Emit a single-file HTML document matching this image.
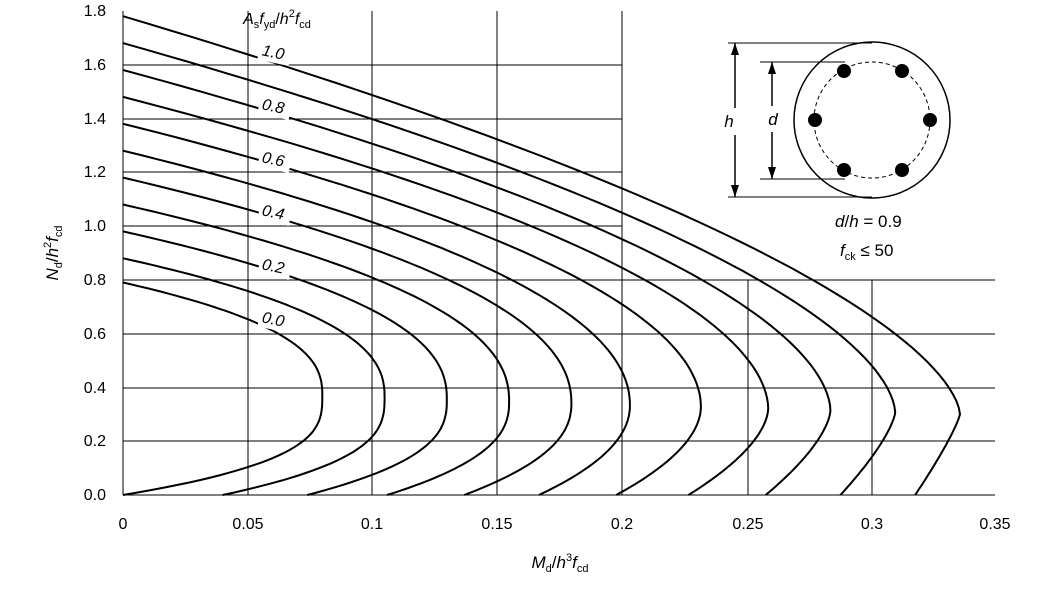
<!DOCTYPE html>
<html><head><meta charset="utf-8"><style>
body{margin:0;background:#fff}
svg{display:block;font-family:"Liberation Sans",sans-serif}
</style></head><body>
<svg id="s" width="1058" height="591" viewBox="0 0 1058 591" xmlns="http://www.w3.org/2000/svg">
<g stroke="#000" stroke-width="1" fill="none">
<line x1="123" y1="11" x2="123" y2="495"/>
<line x1="123" y1="495" x2="995" y2="495"/>
<line x1="248" y1="11" x2="248" y2="495"/>
<line x1="372" y1="11" x2="372" y2="495"/>
<line x1="497" y1="11" x2="497" y2="495"/>
<line x1="622" y1="11" x2="622" y2="495"/>
<line x1="748" y1="280" x2="748" y2="495"/>
<line x1="872" y1="280" x2="872" y2="495"/>
<line x1="123" y1="65" x2="622" y2="65"/>
<line x1="123" y1="119" x2="622" y2="119"/>
<line x1="123" y1="172" x2="622" y2="172"/>
<line x1="123" y1="226" x2="622" y2="226"/>
<line x1="123" y1="280" x2="995" y2="280"/>
<line x1="123" y1="334" x2="995" y2="334"/>
<line x1="123" y1="388" x2="995" y2="388"/>
<line x1="123" y1="441" x2="995" y2="441"/>
</g>
<g id="curves" stroke="#000" stroke-width="2" fill="none"></g>
<g font-size="16" text-anchor="end">
<text x="106" y="500">0.0</text><text x="106" y="446">0.2</text><text x="106" y="393">0.4</text><text x="106" y="339">0.6</text><text x="106" y="285">0.8</text><text x="106" y="231">1.0</text><text x="106" y="177">1.2</text><text x="106" y="124">1.4</text><text x="106" y="70">1.6</text><text x="106" y="16">1.8</text>
</g>
<g font-size="16" text-anchor="middle">
<text x="123" y="529">0</text><text x="248" y="529">0.05</text><text x="372" y="529">0.1</text><text x="497" y="529">0.15</text><text x="622" y="529">0.2</text><text x="748" y="529">0.25</text><text x="872" y="529">0.3</text><text x="995" y="529">0.35</text>
</g>
<text x="560" y="568" font-size="17" text-anchor="middle"><tspan font-style="italic">M</tspan><tspan font-size="11" dy="4">d</tspan><tspan dy="-4">/</tspan><tspan font-style="italic">h</tspan><tspan font-size="11" dy="-7">3</tspan><tspan font-style="italic" dy="7">f</tspan><tspan font-size="11" dy="4">cd</tspan></text>
<text transform="translate(58,253) rotate(-90)" font-size="17" text-anchor="middle"><tspan font-style="italic">N</tspan><tspan font-size="11" dy="4">d</tspan><tspan dy="-4">/</tspan><tspan font-style="italic">h</tspan><tspan font-size="11" dy="-7">2</tspan><tspan font-style="italic" dy="7">f</tspan><tspan font-size="11" dy="4">cd</tspan></text>
<text x="277" y="24" font-size="16" text-anchor="middle"><tspan font-style="italic">A</tspan><tspan font-size="11" dy="4">s</tspan><tspan font-style="italic" dy="-4">f</tspan><tspan font-size="11" dy="4">yd</tspan><tspan dy="-4">/</tspan><tspan font-style="italic">h</tspan><tspan font-size="11" dy="-7">2</tspan><tspan font-style="italic" dy="7">f</tspan><tspan font-size="11" dy="4">cd</tspan></text>
<g id="labels" font-size="16" font-style="italic"></g>
<g stroke="#000" fill="none" stroke-width="1.5">
<circle cx="872" cy="120" r="78"/>
<circle cx="872" cy="120" r="58" stroke-dasharray="4,3" stroke-width="1"/>
<line x1="728" y1="43" x2="872" y2="43" stroke-width="1"/>
<line x1="728" y1="197" x2="872" y2="197" stroke-width="1"/>
<line x1="760" y1="62" x2="845" y2="62" stroke-width="1"/>
<line x1="760" y1="179" x2="845" y2="179" stroke-width="1"/>
<line x1="735" y1="43" x2="735" y2="108"/><line x1="735" y1="135" x2="735" y2="197"/>
<line x1="772" y1="62" x2="772" y2="106"/><line x1="772" y1="132" x2="772" y2="179"/>
</g>
<g fill="#000">
<polygon points="735,43 731,55 739,55"/><polygon points="735,197 731,185 739,185"/>
<polygon points="772,62 768,74 776,74"/><polygon points="772,179 768,167 776,167"/>
<circle cx="844" cy="71" r="7"/><circle cx="902" cy="71" r="7"/><circle cx="815" cy="120" r="7"/><circle cx="930" cy="120" r="7"/><circle cx="844" cy="170" r="7"/><circle cx="902" cy="170" r="7"/>
</g>
<text x="729" y="127" font-size="17" font-style="italic" text-anchor="middle">h</text>
<text x="773" y="125" font-size="17" font-style="italic" text-anchor="middle">d</text>
<text x="835" y="227" font-size="17"><tspan font-style="italic">d</tspan>/<tspan font-style="italic">h</tspan> = 0.9</text>
<text x="840" y="256" font-size="17"><tspan font-style="italic">f</tspan><tspan font-size="11" dy="4">ck</tspan><tspan dy="-4"> ≤ 50</tspan></text>
</svg>
<script>
var X=function(m){return 123+m*2491},Y=function(n){return 495-n*269};
var N0=[0.79,0.88,0.98,1.08,1.18,1.28,1.38,1.48,1.58,1.68,1.78];
var Mb=[0,0.04,0.074,0.106,0.137,0.167,0.198,0.227,0.258,0.288,0.318];
var Mm=[0.08,0.105,0.13,0.155,0.18,0.2035,0.232,0.259,0.284,0.31,0.336];
var g=document.getElementById('curves'),L=document.getElementById('labels'),ns='http://www.w3.org/2000/svg';
for(var i=0;i<11;i++){var k=i/10,Nb=0.37-0.07*k,p=2.5-0.9*k,r=3-1.8*k,pts=[];
for(var j=0;j<=60;j++){var N=N0[i]-(N0[i]-Nb)*j/60,s=Math.max(0,Math.min(1,(N-Nb)/(N0[i]-Nb)));pts.push(X(Mm[i]*(1-Math.pow(s,p))).toFixed(1)+','+Y(N).toFixed(1));}
for(var j=1;j<=40;j++){var N=Nb*(1-j/40),u=Math.max(0,Math.min(1,N/Nb));pts.push(X(Mb[i]+(Mm[i]-Mb[i])*(1-Math.pow(1-u,r))).toFixed(1)+','+Y(N).toFixed(1));}
var pl=document.createElementNS(ns,'polyline');pl.setAttribute('points',pts.join(' '));g.appendChild(pl);
if(i%2==0){var yy=[325,272,218,165,112,58][i/2];
var rc=document.createElementNS(ns,'rect');rc.setAttribute('x',258);rc.setAttribute('y',yy-15);rc.setAttribute('width',32);rc.setAttribute('height',20);rc.setAttribute('fill','#fff');rc.setAttribute('transform','rotate(12 275 '+yy+')');L.appendChild(rc);
var t=document.createElementNS(ns,'text');t.setAttribute('x',261);t.setAttribute('y',yy);t.setAttribute('transform','rotate(12 275 '+yy+')');t.textContent=k.toFixed(1);L.appendChild(t);}}
</script>
</body></html>
